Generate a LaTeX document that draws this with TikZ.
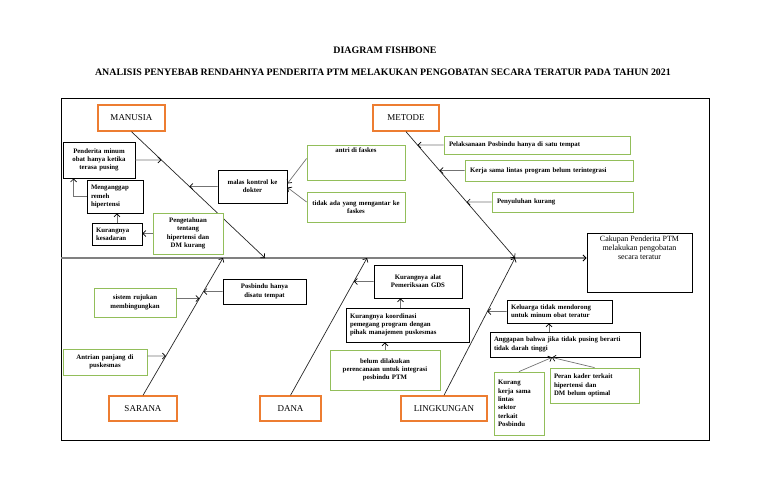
\documentclass[tikz,border=0pt]{standalone}
\usepackage{fontspec}
\setmainfont{Liberation Serif}
\usepackage{xcolor}
\usepackage{tikz}
\usetikzlibrary{calc, arrows.meta}

\definecolor{boneorange}{RGB}{237, 125, 49}
\definecolor{leafgreen}{RGB}{146, 190, 90}

\newcommand{\boxfont}{\fontsize{6.8}{8.3}\selectfont\bfseries}

\tikzset{
    heading/.style = {font = \fontsize{9.9}{11}\selectfont\bfseries, inner sep = 0pt},
    cause/.style = {draw = boneorange, line width = 1.4pt, fill = white, font = \fontsize{9}{10}\selectfont, inner sep = 0pt},
    greenbox/.style = {draw = leafgreen, line width = 0.8pt, fill = white, font = \boxfont, align = center, inner xsep = 4pt, inner ysep = 1pt},
    blackbox/.style = {draw = black, line width = 0.9pt, fill = white, font = \boxfont, align = center, inner xsep = 4pt, inner ysep = 1pt},
    plaintext/.style = {font = \boxfont, align = center, inner sep = 3pt},
    bone/.style = {draw = black!85, line width = 0.7pt, -{Straight Barb[length = 3pt, width = 6pt, color = black]}},
    feed/.style = {draw = black!55, line width = 0.7pt, -{Straight Barb[length = 3pt, width = 6pt, color = black]}},
    spine/.style = {draw = black!50, line width = 1.6pt, -{Straight Barb[length = 3pt, width = 6pt, line width = 0.8pt, color = black]}}
}

\begin{document}
\begin{tikzpicture}[x = 1pt, y = 1pt]
    \useasboundingbox (+0.0, +0.0) rectangle (+768.0, -501.0);
    
    % Title
    \node[heading] (title) at (+385.0, -50.0) {DIAGRAM FISHBONE};
    %
    \node[heading] (subtitle) at (+383.0, -72.0) {ANALISIS PENYEBAB RENDAHNYA PENDERITA PTM MELAKUKAN PENGOBATAN SECARA TERATUR PADA TAHUN 2021};
    
    % Frame
    \draw[line width = 0.9pt] (+61.0, -98.0) rectangle (+709.0, -440.0);
    
    % Effect and spine
    \node[blackbox, minimum width = 105pt, minimum height = 59pt] (effect) at (+639.5, -262.5) {};
    %
    \node[plaintext, font = \fontsize{8}{9}\selectfont, anchor = north] (effecttext) at (effect.north) {Cakupan Penderita PTM\\ melakukan pengobatan\\ secara teratur};
    
    \coordinate (tail) at (+61.0, -258.0);
    %
    \draw[spine] (tail) -- (tail -| effect.west);
    
    % Categories
    \node[cause, minimum width = 67pt, minimum height = 26pt] (manusia) at (+131.5, -118.0) {MANUSIA};
    %
    \node[cause, minimum width = 66pt, minimum height = 26pt] (metode) at (+406.0, -118.0) {METODE};
    %
    \node[cause, minimum width = 68pt, minimum height = 25pt] (sarana) at (+143.0, -408.5) {SARANA};
    %
    \node[cause, minimum width = 61pt, minimum height = 25pt] (dana) at (+290.5, -408.5) {DANA};
    %
    \node[cause, minimum width = 86pt, minimum height = 25pt] (lingkungan) at (+444.0, -408.5) {LINGKUNGAN};
    
    % Bones
    \coordinate (manusiaJ) at (+265.0, -258.0);
    \coordinate (metodeJ) at (+515.0, -258.0);
    \coordinate (saranaJ) at (+223.0, -258.0);
    \coordinate (danaJ) at (+367.0, -258.0);
    \coordinate (lingkunganJ) at (+515.0, -258.0);
    
    \draw[bone] (manusia.south) -- (manusiaJ);
    %
    \draw[bone] (metode.south) -- (metodeJ);
    %
    \draw[bone] (sarana.north) -- (saranaJ);
    %
    \draw[bone] (dana.north) -- (danaJ);
    %
    \draw[bone] (lingkungan.north) -- (lingkunganJ);
    
    % MANUSIA
    \node[blackbox, minimum width = 72pt, minimum height = 36pt, text width = 64pt] (penderita) at (+99.0, -160.0) {Penderita minum\\ obat hanya ketika\\ terasa pusing};
    %
    \node[blackbox, minimum width = 56pt, minimum height = 33pt, text width = 48pt, align = left] (anggap) at (+115.0, -196.5) {Menganggap\\ remeh\\ hipertensi};
    %
    \node[blackbox, minimum width = 50pt, minimum height = 22pt, text width = 42pt, align = left] (kesadaran) at (+117.0, -234.0) {Kurangnya\\ kesadaran};
    %
    \node[greenbox, minimum width = 70pt, minimum height = 41pt, text width = 62pt] (pengetahuan) at (+188.0, -233.5) {Pengetahuan\\ tentang\\ hipertensi dan\\ DM kurang};
    %
    \node[blackbox, minimum width = 69pt, minimum height = 33pt, text width = 61pt] (malas) at (+252.5, -186.5) {malas kontrol ke\\ dokter};
    %
    \node[greenbox, minimum width = 98pt, minimum height = 35pt] (antri) at (+356.0, -162.5) {};
    %
    \node[plaintext, anchor = north] (antritext) at (antri.north) {antri di faskes};
    %
    \node[greenbox, minimum width = 98pt, minimum height = 30pt, text width = 90pt] (tidakada) at (+356.0, -207.0) {tidak ada yang mengantar ke\\ faskes};
    
    \draw[feed] (penderita.east) -- (intersection cs: first line = {(manusia.south)--(manusiaJ)}, second line = {(penderita.east)--(penderita.west)});
    %
    \draw[feed] (anggap.west) -| ([xshift = 11pt]penderita.south west);
    %
    \draw[feed] (kesadaran.north) -- (kesadaran.north |- anggap.south);
    %
    \draw[feed] (pengetahuan.west) -- (pengetahuan.west -| kesadaran.east);
    %
    \draw[feed] (malas.west) -- (intersection cs: first line = {(manusia.south)--(manusiaJ)}, second line = {(malas.east)--(malas.west)});
    %
    \draw[feed] ([yshift = 4pt]antri.west) -- ([yshift = 3pt]malas.east);
    %
    \draw[feed] ([yshift = 5pt]tidakada.west) -- ([yshift = -1pt]malas.east);
    
    % METODE
    \node[greenbox, minimum width = 186pt, minimum height = 18pt, text width = 176pt, align = left] (pelaksanaan) at (+537.0, -145.0) {Pelaksanaan Posbindu hanya di satu tempat};
    %
    \node[greenbox, minimum width = 168pt, minimum height = 21pt, text width = 158pt, align = left] (kerjasama) at (+549.0, -170.5) {Kerja sama lintas program belum terintegrasi};
    %
    \node[greenbox, minimum width = 141pt, minimum height = 20pt, text width = 131pt, align = left] (penyuluhan) at (+562.5, -202.0) {Penyuluhan kurang};
    
    \draw[feed] (pelaksanaan.west) -- (intersection cs: first line = {(metode.south)--(metodeJ)}, second line = {(pelaksanaan.east)--(pelaksanaan.west)});
    %
    \draw[feed] (kerjasama.west) -- (intersection cs: first line = {(metode.south)--(metodeJ)}, second line = {(kerjasama.east)--(kerjasama.west)});
    %
    \draw[feed] (penyuluhan.west) -- (intersection cs: first line = {(metode.south)--(metodeJ)}, second line = {(penyuluhan.east)--(penyuluhan.west)});
    
    % SARANA
    \node[blackbox, minimum width = 83pt, minimum height = 25pt, text width = 75pt] (posbindu) at (+264.5, -291.5) {Posbindu hanya\\ disatu tempat};
    %
    \node[greenbox, minimum width = 82pt, minimum height = 29pt, text width = 74pt] (rujukan) at (+135.0, -302.5) {sistem rujukan\\ membingungkan};
    %
    \node[greenbox, minimum width = 84pt, minimum height = 26pt, text width = 76pt] (antrian) at (+105.0, -362.0) {Antrian panjang di\\ puskesmas};
    
    \draw[feed] (posbindu.west) -- (intersection cs: first line = {(sarana.north)--(saranaJ)}, second line = {(posbindu.east)--(posbindu.west)});
    %
    \draw[feed] ([yshift = 4pt]rujukan.east) -- (intersection cs: first line = {(sarana.north)--(saranaJ)}, second line = {([yshift = 4pt]rujukan.east)--([yshift = 4pt]rujukan.west)});
    %
    \draw[feed] ([yshift = 6pt]antrian.east) -- (intersection cs: first line = {(sarana.north)--(saranaJ)}, second line = {([yshift = 6pt]antrian.east)--([yshift = 6pt]antrian.west)});
    
    % DANA
    \node[blackbox, minimum width = 88pt, minimum height = 33pt, text width = 80pt] (gds) at (+418.0, -281.5) {Kurangnya alat\\ Pemeriksaan GDS};
    %
    \node[blackbox, minimum width = 123pt, minimum height = 34pt, text width = 115pt, align = left] (koordinasi) at (+407.5, -325.0) {Kurangnya koordinasi\\ pemegang program dengan\\ pihak manajemen puskesmas};
    %
    \node[greenbox, minimum width = 110pt, minimum height = 40pt, text width = 102pt] (belum) at (+385.0, -370.0) {belum dilakukan\\ perencanaan untuk integrasi\\ posbindu PTM};
    
    \draw[feed] (gds.west) -- (intersection cs: first line = {(dana.north)--(danaJ)}, second line = {(gds.east)--(gds.west)});
    %
    \draw[feed] ([xshift = -7pt]koordinasi.north) -- ([xshift = -7pt]koordinasi.north |- gds.south);
    %
    \draw[feed] (belum.north) -- (belum.north |- koordinasi.south);
    
    % LINGKUNGAN
    \node[blackbox, minimum width = 105pt, minimum height = 23pt, text width = 97pt, align = left] (keluarga) at (+559.5, -311.5) {Keluarga tidak mendorong\\ untuk minum obat teratur};
    %
    \node[blackbox, minimum width = 150pt, minimum height = 25pt, text width = 142pt, align = left] (anggapan) at (+565.0, -344.5) {Anggapan bahwa jika tidak pusing berarti\\ tidak darah tinggi};
    %
    \node[greenbox, minimum width = 50pt, minimum height = 63pt, text width = 42pt, align = left] (kurang) at (+519.0, -403.5) {Kurang\\ kerja sama\\ lintas\\ sektor\\ terkait\\ Posbindu};
    %
    \node[greenbox, minimum width = 89pt, minimum height = 35pt, text width = 81pt, align = left] (peran) at (+594.5, -385.5) {Peran kader terkait\\ hipertensi dan\\ DM belum optimal};
    
    \coordinate (anggapanIn) at ([xshift = -13pt]anggapan.south);
    
    \draw[feed] (keluarga.west) -- (intersection cs: first line = {(lingkungan.north)--(lingkunganJ)}, second line = {(keluarga.east)--(keluarga.west)});
    %
    \draw[feed] ([xshift = -16pt]anggapan.north) -- ([xshift = -16pt]anggapan.north |- keluarga.south);
    %
    \draw[feed] (kurang.north) -- (anggapanIn);
    %
    \draw[feed] (peran.north) -- (anggapanIn);
\end{tikzpicture}
\end{document}
